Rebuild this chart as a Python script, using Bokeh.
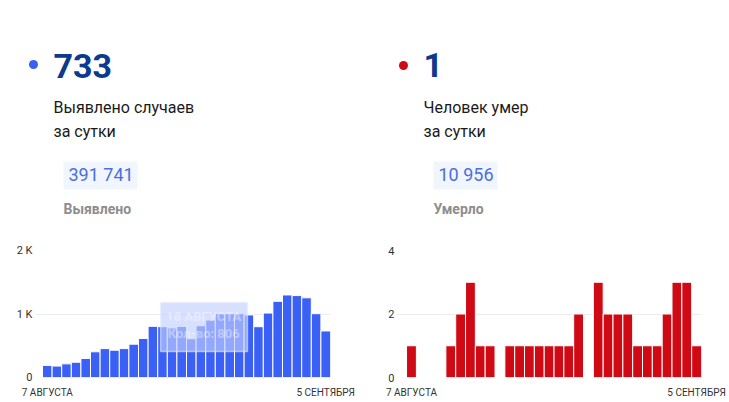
from bokeh.plotting import figure
from bokeh.layouts import row, column
from bokeh.models import Range1d, FixedTicker, BoxAnnotation, Label
from bokeh.core.properties import value
from bokeh.embed import file_html
from bokeh.resources import INLINE

# ---- data ----
date_labels = {0: "7 АВГУСТА", 29: "5 СЕНТЯБРЯ"}
cases = [190, 180, 215, 240, 300, 405, 455, 430, 455, 525, 615, 806, 800, 780, 805,
         610, 815, 905, 1005, 1005, 1005, 985, 800, 1015, 1200, 1300, 1290, 1255, 1005, 733]
deaths = [1, 0, 0, 0, 1, 2, 3, 1, 1, 0, 1, 1, 1, 1, 1, 1, 1, 2, 0, 3, 2, 2, 2, 1, 1, 1, 2, 3, 3, 1]
cases_ticks = {0: "0", 1000: "1 K", 2000: "2 K"}
deaths_ticks = {0: "0", 2: "2", 4: "4"}
cases_today = "733"
deaths_today = "1"
cases_caption = ["Выявлено случаев", "за сутки"]
deaths_caption = ["Человек умер", "за сутки"]
cases_total = "391 741"
deaths_total = "10 956"
cases_total_label = "Выявлено"
deaths_total_label = "Умерло"
tooltip_lines = ["18 АВГУСТА", "Кол-во: 806"]

FONT = value("Roboto")
BLUE = "#3b60f5"
RED = "#d00a14"
NAVY = "#0b3a8e"


def header(width, height, dot_x, dot_y, text_x, box_l, box_r, dot_color, big, big_y,
           caption, total, total_label):
    p = figure(width=width, height=height, output_backend="svg", toolbar_location=None,
               x_range=Range1d(0, width), y_range=Range1d(height, 0),
               x_axis_type=None, y_axis_type=None, frame_align=False,
               min_border=0, outline_line_color=None)
    p.grid.visible = False
    p.scatter(x=[dot_x], y=[dot_y], size=9, color=dot_color, line_color=None)
    p.text(x=[text_x], y=[big_y], text=[big], text_font=FONT, text_font_size="34px",
           text_font_style="bold", text_color=NAVY, text_baseline="alphabetic")
    p.text(x=[text_x, text_x], y=[107, 131], text=caption, text_font=FONT,
           text_font_size="16px", text_color="#1a1a1a", text_baseline="alphabetic")
    p.quad(left=[box_l], right=[box_r], top=[161], bottom=[189], fill_color="#f1f5fd",
           line_color=None)
    p.text(x=[box_l + 5], y=[174], text=[total], text_font=FONT, text_font_size="18px",
           text_color="#4a6fdf", text_baseline="alphabetic")
    p.text(x=[box_l], y=[208], text=[total_label], text_font=FONT, text_font_size="14px",
           text_font_style="bold", text_color="#8d8d8d", text_baseline="alphabetic")
    return p


def chart(width, height, vals, color, xstart, yend, ticks, bl, br):
    p = figure(width=width, height=height, output_backend="svg", toolbar_location=None,
               x_range=Range1d(xstart, len(vals) - 0.5), y_range=Range1d(0, yend),
               min_border_left=bl, min_border_right=br, min_border_top=20,
               min_border_bottom=23, outline_line_color=None, frame_align=False)
    p.vbar(x=list(range(len(vals))), top=vals, width=1, fill_color=color,
           line_color="white", line_width=1)
    p.xgrid.visible = False
    p.ygrid.grid_line_color = "#ececec"
    p.ygrid.ticker = FixedTicker(ticks=list(ticks.keys()))
    p.yaxis.ticker = FixedTicker(ticks=list(ticks.keys()))
    p.yaxis.major_label_overrides = ticks
    p.xaxis.ticker = FixedTicker(ticks=list(date_labels.keys()))
    p.xaxis.major_label_overrides = date_labels
    for ax in (p.xaxis, p.yaxis):
        ax.axis_line_color = None
        ax.major_tick_line_color = None
        ax.minor_tick_line_color = None
        ax.major_tick_out = 0
        ax.major_tick_in = 0
        ax.minor_tick_out = 0
        ax.minor_tick_in = 0
        ax.major_label_text_font = "Roboto"
        ax.major_label_text_color = "#333333"
    p.yaxis.major_label_text_font_size = "11px"
    p.xaxis.major_label_text_font_size = "10px"
    p.yaxis.major_label_standoff = 3
    p.xaxis.major_label_standoff = 9
    return p


hl = header(364, 230, 33, 64, 53, 63, 137, BLUE, cases_today, 65,
            cases_caption, cases_total, cases_total_label)
hr = header(365, 230, 39, 65, 59, 69, 133, RED, deaths_today, 64,
            deaths_caption, deaths_total, deaths_total_label)

cl = chart(364, 170, cases, BLUE, -1.23, 2000, cases_ticks, 35, 34)
cr = chart(365, 170, deaths, RED, -1.42, 4, deaths_ticks, 33, 28)

# faded tooltip overlay on the cases chart
cl.add_layout(BoxAnnotation(left=11.8, right=20.85, bottom=410, top=1180,
                            fill_color="#c3d0ff", fill_alpha=0.65,
                            line_color="#e6ecff", line_alpha=0.6, line_width=1.5))
cl.add_layout(Label(x=16.3, y=960, text=tooltip_lines[0], text_align="center",
                    text_baseline="middle", text_font="Roboto", text_font_size="13px",
                    text_font_style="bold", text_color="white", text_alpha=0.4))
cl.add_layout(Label(x=16.3, y=690, text=tooltip_lines[1], text_align="center",
                    text_baseline="middle", text_font="Roboto", text_font_size="13px",
                    text_font_style="bold", text_color="white", text_alpha=0.4))

layout = row(column(hl, cl), column(hr, cr))
open("out.html", "w").write(file_html(layout, INLINE))
